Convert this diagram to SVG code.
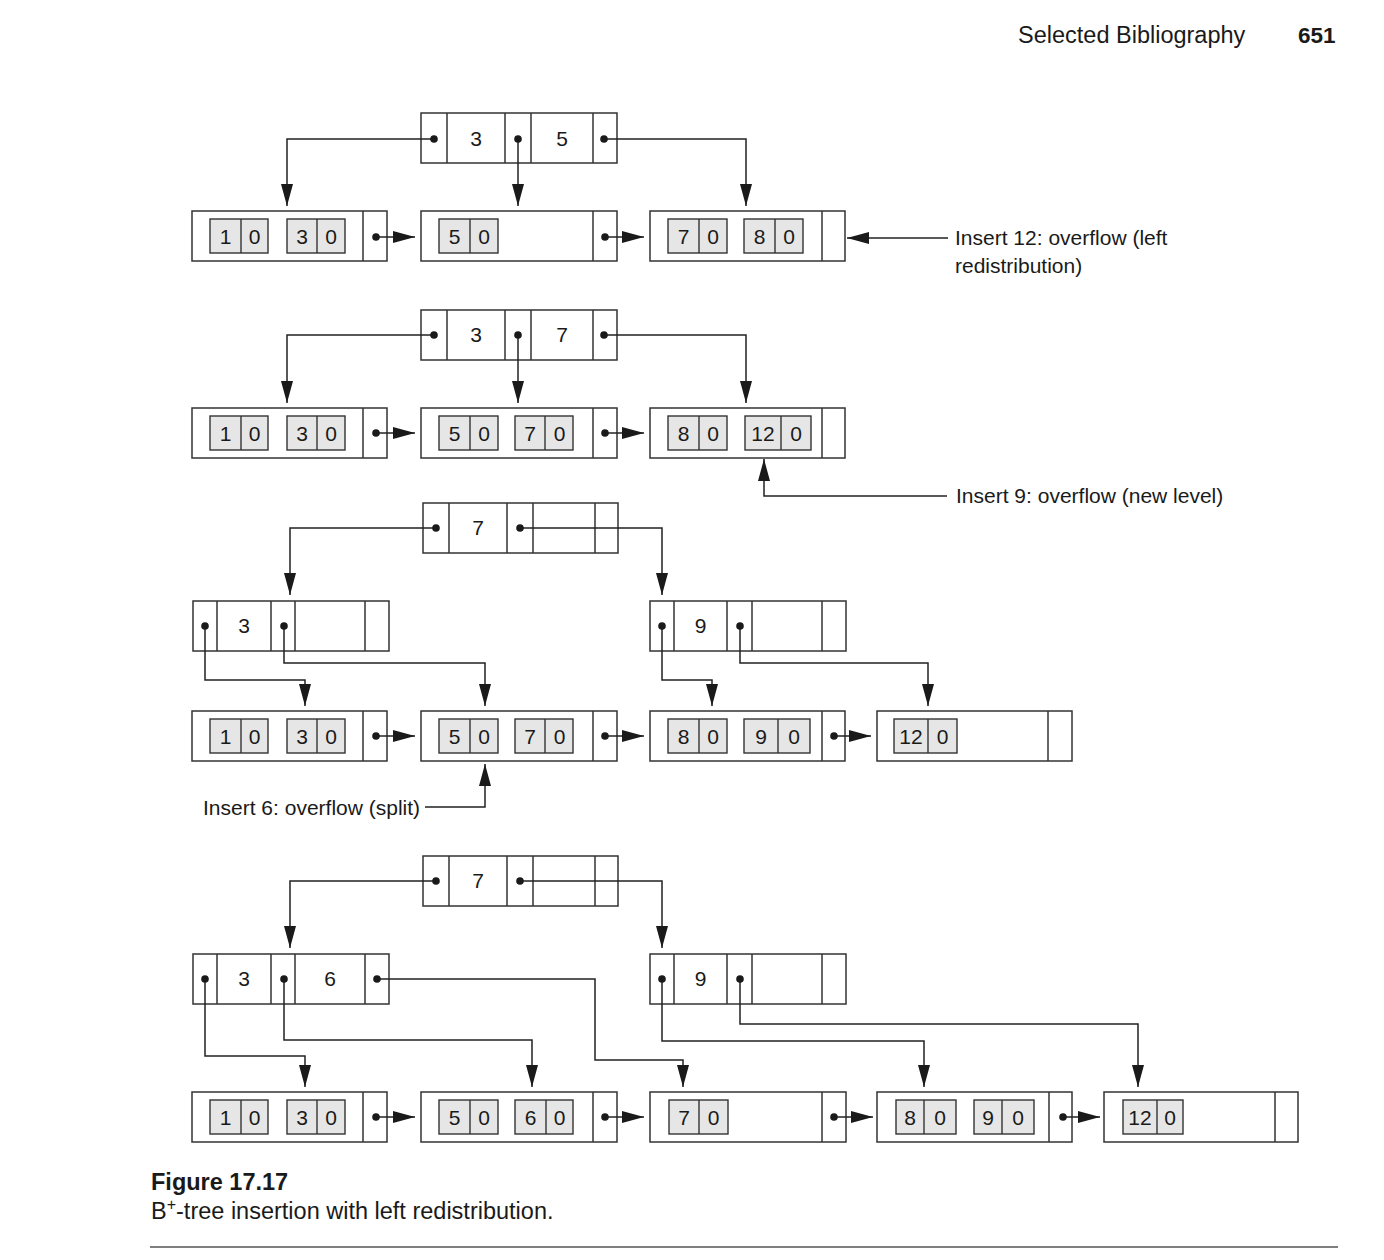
<svg xmlns="http://www.w3.org/2000/svg" width="1384" height="1260" viewBox="0 0 1384 1260">
<style>
  .bx{fill:#fff;stroke:#333;stroke-width:1.5}
  .kb{fill:#e6e6e6;stroke:#333;stroke-width:1.4}
  .dv{stroke:#333;stroke-width:1.5}
  .kd{stroke:#333;stroke-width:1.4}
  .t{font-family:"Liberation Sans",Arial,Helvetica,sans-serif;font-size:21px;fill:#1a1a1a}
  .c{text-anchor:middle}
  .cn{fill:none;stroke:#222;stroke-width:1.5}
  .ar{marker-end:url(#ah)}
  .dot{fill:#1a1a1a}
  .hd{font-family:"Liberation Sans",Arial,Helvetica,sans-serif;fill:#1a1a1a}
</style>
<defs>
  <marker id="ah" viewBox="0 0 22 12" refX="22" refY="6" markerWidth="22" markerHeight="12" markerUnits="userSpaceOnUse" orient="auto">
    <path d="M0,0 L22,6 L0,12 z" fill="#1a1a1a"/>
  </marker>
</defs>
<rect width="1384" height="1260" fill="#fff"/>

<!-- header -->
<g id="header">
  <text class="hd" x="1018" y="43" font-size="23.5">Selected Bibliography</text>
  <text class="hd" x="1298" y="43" font-size="22.5" font-weight="bold">651</text>
</g>

<!-- ============ Section 1 ============ -->
<g id="s1-root">
  <rect class="bx" x="421" y="113" width="196" height="50"/>
  <line class="dv" x1="447" y1="113" x2="447" y2="163"/>
  <line class="dv" x1="505" y1="113" x2="505" y2="163"/>
  <line class="dv" x1="531" y1="113" x2="531" y2="163"/>
  <line class="dv" x1="593" y1="113" x2="593" y2="163"/>
  <text class="t c" x="476" y="146">3</text>
  <text class="t c" x="562" y="146">5</text>
</g>
<g id="s1-leaf1">
  <rect class="bx" x="192" y="211" width="195" height="50"/>
  <line class="dv" x1="363" y1="211" x2="363" y2="261"/>
  <rect class="kb" x="210" y="219" width="58" height="34"/><line class="kd" x1="241" y1="219" x2="241" y2="253"/>
  <text class="t c" x="225.5" y="244">1</text><text class="t c" x="254.5" y="244">0</text>
  <rect class="kb" x="287" y="219" width="58" height="34"/><line class="kd" x1="317" y1="219" x2="317" y2="253"/>
  <text class="t c" x="302" y="244">3</text><text class="t c" x="331" y="244">0</text>
</g>
<g id="s1-leaf2">
  <rect class="bx" x="421" y="211" width="196" height="50"/>
  <line class="dv" x1="593" y1="211" x2="593" y2="261"/>
  <rect class="kb" x="439" y="219" width="59" height="34"/><line class="kd" x1="470" y1="219" x2="470" y2="253"/>
  <text class="t c" x="454.5" y="244">5</text><text class="t c" x="484" y="244">0</text>
</g>
<g id="s1-leaf3">
  <rect class="bx" x="650" y="211" width="195" height="50"/>
  <line class="dv" x1="822" y1="211" x2="822" y2="261"/>
  <rect class="kb" x="668" y="219" width="59" height="34"/><line class="kd" x1="699" y1="219" x2="699" y2="253"/>
  <text class="t c" x="683.5" y="244">7</text><text class="t c" x="713" y="244">0</text>
  <rect class="kb" x="744" y="219" width="59" height="34"/><line class="kd" x1="775" y1="219" x2="775" y2="253"/>
  <text class="t c" x="759.5" y="244">8</text><text class="t c" x="789" y="244">0</text>
</g>
<g id="s1-label">
  <text class="t" x="955" y="245">Insert 12: overflow (left</text>
  <text class="t" x="955" y="273">redistribution)</text>
</g>

<!-- ============ Section 2 ============ -->
<g id="s2-root">
  <rect class="bx" x="421" y="310" width="196" height="50"/>
  <line class="dv" x1="447" y1="310" x2="447" y2="360"/>
  <line class="dv" x1="505" y1="310" x2="505" y2="360"/>
  <line class="dv" x1="531" y1="310" x2="531" y2="360"/>
  <line class="dv" x1="593" y1="310" x2="593" y2="360"/>
  <text class="t c" x="476" y="342">3</text>
  <text class="t c" x="562" y="342">7</text>
</g>
<g id="s2-leaf1">
  <rect class="bx" x="192" y="408" width="195" height="50"/>
  <line class="dv" x1="363" y1="408" x2="363" y2="458"/>
  <rect class="kb" x="210" y="416" width="58" height="34"/><line class="kd" x1="241" y1="416" x2="241" y2="450"/>
  <text class="t c" x="225.5" y="441">1</text><text class="t c" x="254.5" y="441">0</text>
  <rect class="kb" x="287" y="416" width="58" height="34"/><line class="kd" x1="317" y1="416" x2="317" y2="450"/>
  <text class="t c" x="302" y="441">3</text><text class="t c" x="331" y="441">0</text>
</g>
<g id="s2-leaf2">
  <rect class="bx" x="421" y="408" width="196" height="50"/>
  <line class="dv" x1="593" y1="408" x2="593" y2="458"/>
  <rect class="kb" x="439" y="416" width="59" height="34"/><line class="kd" x1="470" y1="416" x2="470" y2="450"/>
  <text class="t c" x="454.5" y="441">5</text><text class="t c" x="484" y="441">0</text>
  <rect class="kb" x="515" y="416" width="58" height="34"/><line class="kd" x1="545" y1="416" x2="545" y2="450"/>
  <text class="t c" x="530" y="441">7</text><text class="t c" x="559.5" y="441">0</text>
</g>
<g id="s2-leaf3">
  <rect class="bx" x="650" y="408" width="195" height="50"/>
  <line class="dv" x1="822" y1="408" x2="822" y2="458"/>
  <rect class="kb" x="668" y="416" width="59" height="34"/><line class="kd" x1="699" y1="416" x2="699" y2="450"/>
  <text class="t c" x="683.5" y="441">8</text><text class="t c" x="713" y="441">0</text>
  <rect class="kb" x="745" y="416" width="66" height="34"/><line class="kd" x1="781" y1="416" x2="781" y2="450"/>
  <text class="t c" x="763" y="441">12</text><text class="t c" x="796" y="441">0</text>
</g>
<g id="s2-label">
  <text class="t" x="956" y="503">Insert 9: overflow (new level)</text>
</g>

<!-- ============ Section 3 ============ -->
<g id="s3-root">
  <rect class="bx" x="423" y="503" width="195" height="50"/>
  <line class="dv" x1="449" y1="503" x2="449" y2="553"/>
  <line class="dv" x1="507" y1="503" x2="507" y2="553"/>
  <line class="dv" x1="533" y1="503" x2="533" y2="553"/>
  <line class="dv" x1="595" y1="503" x2="595" y2="553"/>
  <text class="t c" x="478" y="535">7</text>
</g>
<g id="s3-int-left">
  <rect class="bx" x="193" y="601" width="196" height="50"/>
  <line class="dv" x1="217" y1="601" x2="217" y2="651"/>
  <line class="dv" x1="271" y1="601" x2="271" y2="651"/>
  <line class="dv" x1="295" y1="601" x2="295" y2="651"/>
  <line class="dv" x1="365" y1="601" x2="365" y2="651"/>
  <text class="t c" x="244" y="633">3</text>
</g>
<g id="s3-int-right">
  <rect class="bx" x="650" y="601" width="196" height="50"/>
  <line class="dv" x1="674" y1="601" x2="674" y2="651"/>
  <line class="dv" x1="727" y1="601" x2="727" y2="651"/>
  <line class="dv" x1="752" y1="601" x2="752" y2="651"/>
  <line class="dv" x1="822" y1="601" x2="822" y2="651"/>
  <text class="t c" x="700.5" y="633">9</text>
</g>
<g id="s3-leaf1">
  <rect class="bx" x="192" y="711" width="195" height="50"/>
  <line class="dv" x1="363" y1="711" x2="363" y2="761"/>
  <rect class="kb" x="210" y="719" width="58" height="34"/><line class="kd" x1="241" y1="719" x2="241" y2="753"/>
  <text class="t c" x="225.5" y="744">1</text><text class="t c" x="254.5" y="744">0</text>
  <rect class="kb" x="287" y="719" width="58" height="34"/><line class="kd" x1="317" y1="719" x2="317" y2="753"/>
  <text class="t c" x="302" y="744">3</text><text class="t c" x="331" y="744">0</text>
</g>
<g id="s3-leaf2">
  <rect class="bx" x="421" y="711" width="196" height="50"/>
  <line class="dv" x1="593" y1="711" x2="593" y2="761"/>
  <rect class="kb" x="439" y="719" width="59" height="34"/><line class="kd" x1="470" y1="719" x2="470" y2="753"/>
  <text class="t c" x="454.5" y="744">5</text><text class="t c" x="484" y="744">0</text>
  <rect class="kb" x="515" y="719" width="58" height="34"/><line class="kd" x1="545" y1="719" x2="545" y2="753"/>
  <text class="t c" x="530" y="744">7</text><text class="t c" x="559.5" y="744">0</text>
</g>
<g id="s3-leaf3">
  <rect class="bx" x="650" y="711" width="195" height="50"/>
  <line class="dv" x1="822" y1="711" x2="822" y2="761"/>
  <rect class="kb" x="668" y="719" width="59" height="34"/><line class="kd" x1="699" y1="719" x2="699" y2="753"/>
  <text class="t c" x="683.5" y="744">8</text><text class="t c" x="713" y="744">0</text>
  <rect class="kb" x="744" y="719" width="66" height="34"/><line class="kd" x1="778" y1="719" x2="778" y2="753"/>
  <text class="t c" x="761" y="744">9</text><text class="t c" x="794" y="744">0</text>
</g>
<g id="s3-leaf4">
  <rect class="bx" x="877" y="711" width="195" height="50"/>
  <line class="dv" x1="1048" y1="711" x2="1048" y2="761"/>
  <rect class="kb" x="894" y="719" width="63" height="34"/><line class="kd" x1="928" y1="719" x2="928" y2="753"/>
  <text class="t c" x="911" y="744">12</text><text class="t c" x="942.5" y="744">0</text>
</g>
<g id="s3-label">
  <text class="t" x="203" y="815">Insert 6: overflow (split)</text>
</g>

<!-- ============ Section 4 ============ -->
<g id="s4-root">
  <rect class="bx" x="423" y="856" width="195" height="50"/>
  <line class="dv" x1="449" y1="856" x2="449" y2="906"/>
  <line class="dv" x1="507" y1="856" x2="507" y2="906"/>
  <line class="dv" x1="533" y1="856" x2="533" y2="906"/>
  <line class="dv" x1="595" y1="856" x2="595" y2="906"/>
  <text class="t c" x="478" y="888">7</text>
</g>
<g id="s4-int-left">
  <rect class="bx" x="193" y="954" width="196" height="50"/>
  <line class="dv" x1="217" y1="954" x2="217" y2="1004"/>
  <line class="dv" x1="271" y1="954" x2="271" y2="1004"/>
  <line class="dv" x1="295" y1="954" x2="295" y2="1004"/>
  <line class="dv" x1="365" y1="954" x2="365" y2="1004"/>
  <text class="t c" x="244" y="986">3</text>
  <text class="t c" x="330" y="986">6</text>
</g>
<g id="s4-int-right">
  <rect class="bx" x="650" y="954" width="196" height="50"/>
  <line class="dv" x1="674" y1="954" x2="674" y2="1004"/>
  <line class="dv" x1="727" y1="954" x2="727" y2="1004"/>
  <line class="dv" x1="752" y1="954" x2="752" y2="1004"/>
  <line class="dv" x1="822" y1="954" x2="822" y2="1004"/>
  <text class="t c" x="700.5" y="986">9</text>
</g>
<g id="s4-leaf1">
  <rect class="bx" x="192" y="1092" width="195" height="50"/>
  <line class="dv" x1="363" y1="1092" x2="363" y2="1142"/>
  <rect class="kb" x="210" y="1100" width="58" height="34"/><line class="kd" x1="241" y1="1100" x2="241" y2="1134"/>
  <text class="t c" x="225.5" y="1125">1</text><text class="t c" x="254.5" y="1125">0</text>
  <rect class="kb" x="287" y="1100" width="58" height="34"/><line class="kd" x1="317" y1="1100" x2="317" y2="1134"/>
  <text class="t c" x="302" y="1125">3</text><text class="t c" x="331" y="1125">0</text>
</g>
<g id="s4-leaf2">
  <rect class="bx" x="421" y="1092" width="196" height="50"/>
  <line class="dv" x1="593" y1="1092" x2="593" y2="1142"/>
  <rect class="kb" x="439" y="1100" width="59" height="34"/><line class="kd" x1="470" y1="1100" x2="470" y2="1134"/>
  <text class="t c" x="454.5" y="1125">5</text><text class="t c" x="484" y="1125">0</text>
  <rect class="kb" x="515" y="1100" width="58" height="34"/><line class="kd" x1="546" y1="1100" x2="546" y2="1134"/>
  <text class="t c" x="530.5" y="1125">6</text><text class="t c" x="559.5" y="1125">0</text>
</g>
<g id="s4-leaf3">
  <rect class="bx" x="650" y="1092" width="196" height="50"/>
  <line class="dv" x1="822" y1="1092" x2="822" y2="1142"/>
  <rect class="kb" x="669" y="1100" width="59" height="34"/><line class="kd" x1="699" y1="1100" x2="699" y2="1134"/>
  <text class="t c" x="684" y="1125">7</text><text class="t c" x="713.5" y="1125">0</text>
</g>
<g id="s4-leaf4">
  <rect class="bx" x="877" y="1092" width="195" height="50"/>
  <line class="dv" x1="1049" y1="1092" x2="1049" y2="1142"/>
  <rect class="kb" x="896" y="1100" width="60" height="34"/><line class="kd" x1="924" y1="1100" x2="924" y2="1134"/>
  <text class="t c" x="910" y="1125">8</text><text class="t c" x="940" y="1125">0</text>
  <rect class="kb" x="974" y="1100" width="60" height="34"/><line class="kd" x1="1002" y1="1100" x2="1002" y2="1134"/>
  <text class="t c" x="988" y="1125">9</text><text class="t c" x="1018" y="1125">0</text>
</g>
<g id="s4-leaf5">
  <rect class="bx" x="1104" y="1092" width="194" height="50"/>
  <line class="dv" x1="1275" y1="1092" x2="1275" y2="1142"/>
  <rect class="kb" x="1123" y="1100" width="60" height="34"/><line class="kd" x1="1157" y1="1100" x2="1157" y2="1134"/>
  <text class="t c" x="1140" y="1125">12</text><text class="t c" x="1170" y="1125">0</text>
</g>

<!-- ============ Connectors ============ -->
<g id="connectors">
  <!-- section 1 -->
  <polyline class="cn ar" points="434,139 287,139 287,206"/>
  <polyline class="cn ar" points="518,139 518,206"/>
  <polyline class="cn ar" points="604,139 746,139 746,206"/>
  <polyline class="cn ar" points="376,237 415,237"/>
  <polyline class="cn ar" points="605,237 644,237"/>
  <polyline class="cn ar" points="948,238 847,238"/>
  <!-- section 2 -->
  <polyline class="cn ar" points="434,335 287,335 287,403"/>
  <polyline class="cn ar" points="518,335 518,403"/>
  <polyline class="cn ar" points="604,335 746,335 746,403"/>
  <polyline class="cn ar" points="376,433 415,433"/>
  <polyline class="cn ar" points="605,433 644,433"/>
  <polyline class="cn ar" points="947,496 764,496 764,459"/>
  <!-- section 3 -->
  <polyline class="cn ar" points="436,528 290,528 290,595"/>
  <polyline class="cn ar" points="520,528 662,528 662,595"/>
  <polyline class="cn ar" points="205,626 205,680 305,680 305,706"/>
  <polyline class="cn ar" points="284,626 284,663 485,663 485,706"/>
  <polyline class="cn ar" points="662,626 662,680 712,680 712,706"/>
  <polyline class="cn ar" points="740,626 740,663 928,663 928,706"/>
  <polyline class="cn ar" points="376,736 415,736"/>
  <polyline class="cn ar" points="605,736 644,736"/>
  <polyline class="cn ar" points="834,736 871,736"/>
  <polyline class="cn ar" points="425,807 485,807 485,764"/>
  <!-- section 4 -->
  <polyline class="cn ar" points="436,881 290,881 290,948"/>
  <polyline class="cn ar" points="520,881 662,881 662,948"/>
  <polyline class="cn ar" points="205,979 205,1056 305,1056 305,1087"/>
  <polyline class="cn ar" points="284,979 284,1040 532,1040 532,1087"/>
  <polyline class="cn ar" points="377,979 595,979 595,1060 683,1060 683,1087"/>
  <polyline class="cn ar" points="662,979 662,1041 924,1041 924,1087"/>
  <polyline class="cn ar" points="740,979 740,1024 1138,1024 1138,1087"/>
  <polyline class="cn ar" points="376,1117 415,1117"/>
  <polyline class="cn ar" points="605,1117 644,1117"/>
  <polyline class="cn ar" points="834,1117 873,1117"/>
  <polyline class="cn ar" points="1063,1117 1100,1117"/>
  <!-- pointer dots -->
  <circle class="dot" cx="434" cy="139" r="3.8"/><circle class="dot" cx="518" cy="139" r="3.8"/><circle class="dot" cx="604" cy="139" r="3.8"/>
  <circle class="dot" cx="376" cy="237" r="3.8"/><circle class="dot" cx="605" cy="237" r="3.8"/>
  <circle class="dot" cx="434" cy="335" r="3.8"/><circle class="dot" cx="518" cy="335" r="3.8"/><circle class="dot" cx="604" cy="335" r="3.8"/>
  <circle class="dot" cx="376" cy="433" r="3.8"/><circle class="dot" cx="605" cy="433" r="3.8"/>
  <circle class="dot" cx="436" cy="528" r="3.8"/><circle class="dot" cx="520" cy="528" r="3.8"/>
  <circle class="dot" cx="205" cy="626" r="3.8"/><circle class="dot" cx="284" cy="626" r="3.8"/>
  <circle class="dot" cx="662" cy="626" r="3.8"/><circle class="dot" cx="740" cy="626" r="3.8"/>
  <circle class="dot" cx="376" cy="736" r="3.8"/><circle class="dot" cx="605" cy="736" r="3.8"/><circle class="dot" cx="834" cy="736" r="3.8"/>
  <circle class="dot" cx="436" cy="881" r="3.8"/><circle class="dot" cx="520" cy="881" r="3.8"/>
  <circle class="dot" cx="205" cy="979" r="3.8"/><circle class="dot" cx="284" cy="979" r="3.8"/><circle class="dot" cx="377" cy="979" r="3.8"/>
  <circle class="dot" cx="662" cy="979" r="3.8"/><circle class="dot" cx="740" cy="979" r="3.8"/>
  <circle class="dot" cx="376" cy="1117" r="3.8"/><circle class="dot" cx="605" cy="1117" r="3.8"/><circle class="dot" cx="834" cy="1117" r="3.8"/><circle class="dot" cx="1063" cy="1117" r="3.8"/>
</g>

<!-- caption -->
<g id="caption">
  <text class="hd" x="151" y="1190" font-size="23.5" font-weight="bold">Figure 17.17</text>
  <text class="hd" x="151" y="1219" font-size="23.5">B<tspan font-size="16" dy="-9">+</tspan><tspan dy="9">-tree insertion with left redistribution.</tspan></text>
  <line x1="150" y1="1247" x2="1338" y2="1247" stroke="#555" stroke-width="1.5"/>
</g>
</svg>
